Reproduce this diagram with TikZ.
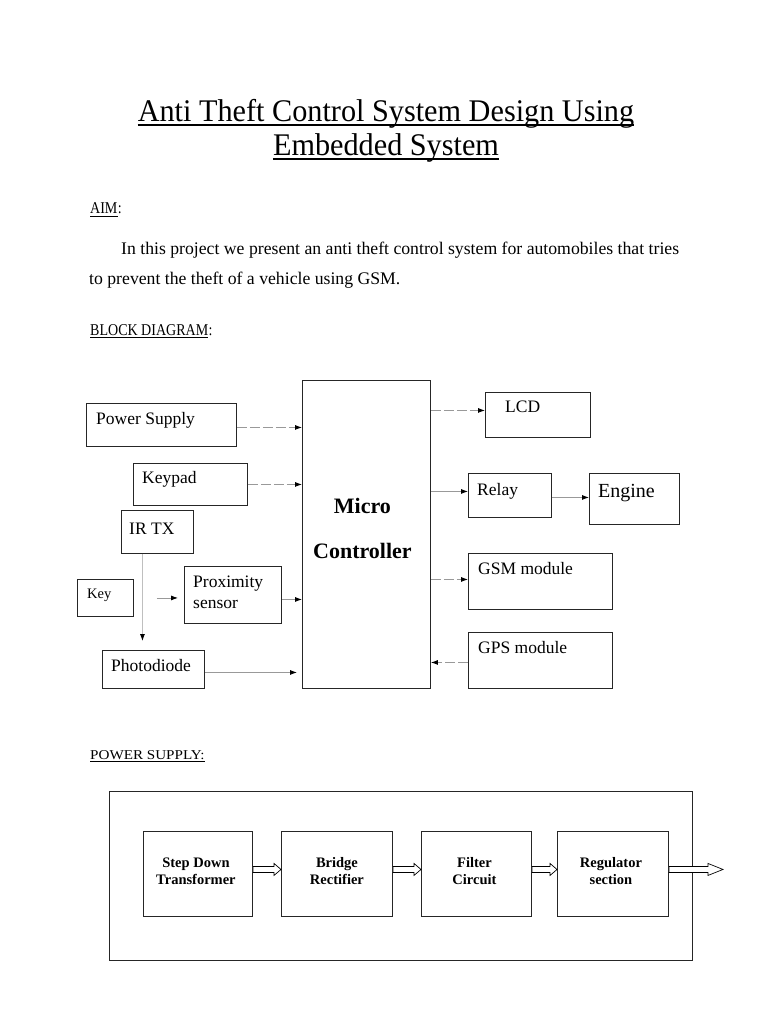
\documentclass[tikz,border=0pt]{standalone}
\usepackage{fontspec}
\setmainfont{Liberation Serif}
\newfontfamily\condfont[FakeStretch=0.85]{Liberation Serif}
\newfontfamily\titlefont[FakeStretch=0.96]{Liberation Serif}
\newfontfamily\widefont[FakeStretch=1.12]{Liberation Serif}
\usetikzlibrary{arrows.meta,calc}
\newcommand\fs[1]{\fontsize{#1}{#1}\selectfont}
\newcommand\hollowarrow[4]{% start, end, head length, y offset (canvas)
  \draw[harrow] let \p1=(#1), \p2=(#2) in
    (\x1,\y1+#4+3pt) -- (\x2-#3,\y1+#4+3pt) -- (\x2-#3,\y1+#4+6pt) -- (\x2,\y1+#4)
    -- (\x2-#3,\y1+#4-6pt) -- (\x2-#3,\y1+#4-3pt) -- (\x1,\y1+#4-3pt) -- cycle;}
\begin{document}
\begin{tikzpicture}[x=1pt,y=-1pt,
  box/.style={draw=black!85,line width=0.9pt,inner sep=0pt,anchor=north west},
  txt/.style={inner sep=0pt,anchor=base west,font=\fs{17.5}},
  ptxt/.style={inner sep=0pt,anchor=base,font=\bfseries\fs{14.5}},
  con/.style={draw=black!40,line width=0.8pt,-{Latex[length=7pt,width=5pt,color=black]}},
  dcon/.style={con,dash pattern=on 10pt off 3pt},
  harrow/.style={draw=black,line width=0.7pt,fill=white},
  ul/.style={line width=0.9pt}]
\useasboundingbox[fill=white] (0,0) rectangle (768,1024);

% ---- title ----
\node[inner sep=0pt,anchor=base,font=\titlefont\fs{31.5}] (t1) at (386,122) {Anti Theft Control System Design Using};
\node[inner sep=0pt,anchor=base,font=\titlefont\fs{31.5}] (t2) at (386,156) {Embedded System};
\draw[line width=1.3pt] ([yshift=-3pt]t1.base west) -- ([yshift=-3pt]t1.base east);
\draw[line width=1.3pt] ([yshift=-3pt]t2.base west) -- ([yshift=-3pt]t2.base east);

% ---- aim ----
\node[txt,font=\condfont\fs{16.5}] (aim) at (90,214) {AIM};
\node[txt,font=\condfont\fs{16.5}] (aimc) at (aim.base east) {:};
\draw[ul] ([yshift=-2pt]aim.base west) -- ([yshift=-2pt]aim.base east);
\node[txt,font=\fs{17.7}] (p1) at (121,254) {In this project we present an anti theft control system for automobiles that tries};
\node[txt,font=\fs{17.7}] (p2) at (89,284) {to prevent the theft of a vehicle using GSM.};

\node[txt,font=\condfont\fs{16.5}] (bd) at (90,335) {BLOCK DIAGRAM};
\node[txt,font=\condfont\fs{16.5}] (bdc) at (bd.base east) {:};
\draw[ul] ([yshift=-2pt]bd.base west) -- ([yshift=-2pt]bd.base east);

% ---- block diagram boxes ----
\node[box,minimum width=150pt,minimum height=43pt] (ps) at (86,403) {};
\node[box,minimum width=114pt,minimum height=42pt] (kp) at (133,463) {};
\node[box,minimum width=72pt,minimum height=43pt] (ir) at (121,510) {};
\node[box,minimum width=56pt,minimum height=37pt] (key) at (77,579) {};
\node[box,minimum width=97pt,minimum height=57pt] (prox) at (184,566) {};
\node[box,minimum width=102pt,minimum height=38pt] (pd) at (102,650) {};
\node[box,minimum width=128pt,minimum height=308pt] (mc) at (302,380) {};
\node[box,minimum width=105pt,minimum height=45pt] (lcd) at (485,392) {};
\node[box,minimum width=83pt,minimum height=44pt] (relay) at (468,473) {};
\node[box,minimum width=90pt,minimum height=51pt] (eng) at (589,473) {};
\node[box,minimum width=144pt,minimum height=56pt] (gsm) at (468,553) {};
\node[box,minimum width=144pt,minimum height=56pt] (gps) at (468,632) {};

\node[txt] (psT) at (96,424) {Power Supply};
\node[txt] (kpT) at (142,483) {Keypad};
\node[txt] (irT) at (129,534) {IR TX};
\node[txt,font=\fs{14.5}] (keyT) at (87,598) {Key};
\node[txt] (proxT) at (193,587) {Proximity};
\node[txt] (proxT2) at (193,608) {sensor};
\node[txt] (pdT) at (111,671) {Photodiode};
\node[inner sep=0pt,anchor=base,font=\bfseries\fs{22}] (mcT1) at ([xshift=-4pt,yshift=21pt]mc.center) {Micro};
\node[inner sep=0pt,anchor=base,font=\bfseries\fs{22}] (mcT2) at ([xshift=-4pt,yshift=-24pt]mc.center) {Controller};
\node[txt] (lcdT) at (505,412) {LCD};
\node[txt] (relayT) at (477,495) {Relay};
\node[txt,font=\fs{20}] (engT) at (598,497) {Engine};
\node[txt] (gsmT) at (478,574) {GSM module};
\node[txt] (gpsT) at (478,653) {GPS module};

% ---- connectors ----
\coordinate (cPS) at ([yshift=-2.5pt]ps.east);
\draw[dcon] (cPS) -- (cPS -| mc.west);
\draw[dcon] (kp.east) -- (kp.east -| mc.west);
\coordinate (cPX) at ([yshift=-4.5pt]prox.east);
\draw[con] (cPX) -- (cPX -| mc.west);
\coordinate (cPD) at ([yshift=-3pt]pd.east);
\draw[con,shorten >=5pt] (cPD) -- (cPD -| mc.west);
\coordinate (cIR) at ([xshift=-15pt]ir.south);
\draw[con,draw=black!25,shorten >=9pt] (cIR) -- (cIR |- pd.north);
\draw[con,shorten <=23pt,shorten >=6pt] (key.east) -- (key.east -| prox.west);

\coordinate (cLCD) at ([yshift=4.5pt]lcd.west);
\draw[dcon] (cLCD -| mc.east) -- (cLCD);
\coordinate (cRL) at ([yshift=4pt]relay.west);
\draw[con] (cRL -| mc.east) -- (cRL);
\coordinate (cEN) at ([yshift=-2pt]relay.east);
\draw[con] (cEN) -- (cEN -| eng.west);
\coordinate (cGSM) at ([yshift=2pt]gsm.west);
\draw[dcon] (cGSM -| mc.east) -- (cGSM);
\coordinate (cGPS) at ([yshift=-2pt]gps.west);
\draw[dcon] (cGPS) -- (cGPS -| mc.east);

% ---- power supply ----
\node[txt,font=\widefont\fs{13.5}] (psh) at (90,759) {POWER SUPPLY:};
\draw[ul] ([yshift=-2.5pt]psh.base west) -- ([yshift=-2.5pt]psh.base east);

\node[box,minimum width=583pt,minimum height=169pt] (outer) at (109,791) {};
\node[box,minimum width=109pt,minimum height=85pt] (sd) at (143,831) {};
\node[box,minimum width=111pt,minimum height=85pt] (br) at (281,831) {};
\node[box,minimum width=110pt,minimum height=85pt] (fl) at (421,831) {};
\node[box,minimum width=111pt,minimum height=85pt] (rg) at (557,831) {};

\node[ptxt] (sdT1) at ([xshift=-2pt,yshift=6.5pt]sd.center) {Step Down};
\node[ptxt] (sdT2) at ([xshift=-2pt,yshift=-10.5pt]sd.center) {Transformer};
\node[ptxt] (brT1) at ([yshift=6.5pt]br.center) {Bridge};
\node[ptxt] (brT2) at ([yshift=-10.5pt]br.center) {Rectifier};
\node[ptxt] (flT1) at ([xshift=-2pt,yshift=6.5pt]fl.center) {Filter};
\node[ptxt] (flT2) at ([xshift=-2pt,yshift=-10.5pt]fl.center) {Circuit};
\node[ptxt] (rgT1) at ([xshift=-2pt,yshift=6.5pt]rg.center) {Regulator};
\node[ptxt] (rgT2) at ([xshift=-2pt,yshift=-10.5pt]rg.center) {section};

\coordinate (out) at (723,873.5);
\hollowarrow{sd.east}{br.west}{7pt}{4.5pt}
\hollowarrow{br.east}{fl.west}{7pt}{4.5pt}
\hollowarrow{fl.east}{rg.west}{7pt}{4.5pt}
\hollowarrow{rg.east}{out}{15pt}{4.5pt}
\end{tikzpicture}
\end{document}
